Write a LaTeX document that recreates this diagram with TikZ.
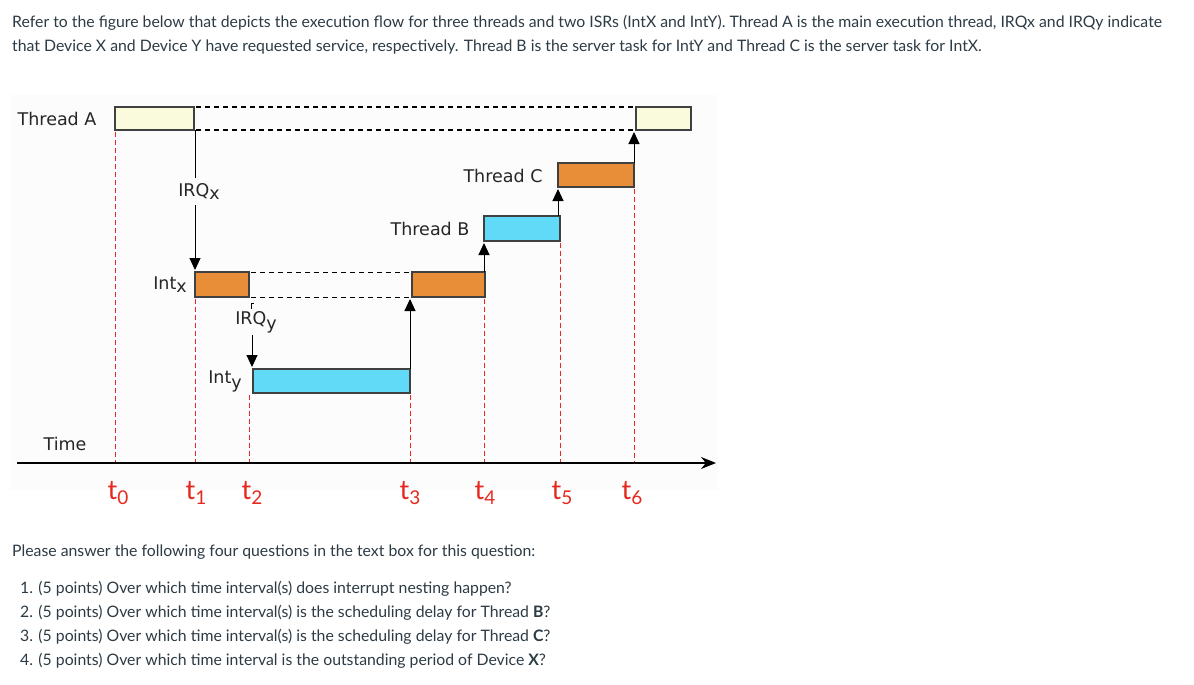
\documentclass[tikz,border=0pt]{standalone}
\usepackage{fontspec}
\setmainfont{Lato}
\newfontfamily\dv{DejaVu Sans}
\usetikzlibrary{arrows.meta}
\definecolor{tred}{RGB}{230,40,30}
\definecolor{orng}{RGB}{232,142,56}
\definecolor{cyn}{RGB}{96,218,246}
\definecolor{pale}{RGB}{250,250,220}
\definecolor{txt}{RGB}{45,59,69}
\begin{document}
\begin{tikzpicture}[x=1pt,y=-1pt,
  bx/.style={draw=black!75,line width=1.2pt},
  dsh/.style={dash pattern=on 5pt off 4pt,line width=1.3pt},
  rdash/.style={tred,dash pattern=on 5pt off 3pt,line width=1pt},
  arr/.style={-{Triangle[length=12pt,width=11pt]},line width=1pt},
  lbl/.style={font=\dv\fontsize{17.5}{20}\selectfont,inner sep=1pt,black!85},
  tl/.style={tred,font=\fontsize{27}{28}\selectfont,inner sep=0pt},
  q/.style={anchor=west,txt,font=\fontsize{15.8}{18}\selectfont,inner sep=0pt}]
\useasboundingbox (0,0) rectangle (1194,685);
\fill[white] (0,0) rectangle (1194,685);
\fill[black!1] (10,95) rectangle (718,490);
% header text
\node[q] (h1) at (12,23) {Refer to the figure below that depicts the execution flow for three threads and two ISRs (IntX and IntY). Thread A is the main execution thread, IRQx and IRQy indicate};
\node[q] (h2) at (12,47) {that Device X and Device Y have requested service, respectively. Thread B is the server task for IntY and Thread C is the server task for IntX.};
% Thread A
\draw[bx,fill=pale] (115,107) rectangle (194,130);
\draw[bx,fill=pale] (636,107) rectangle (691,130);
\draw[dsh] (196,107) -- (634,107);
\draw[dsh] (196,130) -- (634,130);
% Int X
\draw[bx,fill=orng] (195,272) rectangle (249,297);
\draw[bx,fill=orng] (412,272) rectangle (485,297);
\draw[dsh,line width=1pt] (251,272) -- (410,272);
\draw[dsh,line width=1pt] (251,297) -- (410,297);
% Int Y
\draw[bx,fill=cyn] (253,369) rectangle (410,393);
% Thread B, C
\draw[bx,fill=cyn] (484,216) rectangle (560,241);
\draw[bx,fill=orng] (558,163) rectangle (634,187);
% labels
\node[lbl] (la) at (57,119) {Thread A};
\node[lbl] (lirqx) at (199,192) {IRQ\raisebox{-3pt}{x}};
\node[lbl] (lix) at (170,285) {Int\raisebox{-3pt}{x}};
\node[lbl] (lirqy) at (256,322) {IRQ\raisebox{-5pt}{y}};
\node[lbl] (liy) at (225,381) {Int\raisebox{-5pt}{y}};
\node[lbl] (lb) at (430,229) {Thread B};
\node[lbl] (lc) at (503,176) {Thread C};
\node[lbl] (lt) at (65,444) {Time};
% arrows
\draw[line width=1pt] (195,130) -- (195,178);
\draw[arr] (195,205) -- (195,270);
\draw[line width=1pt] (251,309) -- (251,303) -- (254,303);
\draw[arr] (252,335) -- (252,367);
\draw[arr] (410,369) -- (410,299);
\draw[arr] (484,272) -- (484,243);
\draw[arr] (558,216) -- (558,189);
\draw[arr] (634,163) -- (634,132);
% red dashes
\draw[rdash] (115,132) -- (115,462);
\draw[rdash] (195,299) -- (195,462);
\draw[rdash] (249,395) -- (249,462);
\draw[rdash] (410,395) -- (410,462);
\draw[rdash] (484,299) -- (484,462);
\draw[rdash] (560,243) -- (560,462);
\draw[rdash] (634,189) -- (634,462);
% axis
\draw[-{Stealth[length=15pt,width=12pt]},line width=1.4pt] (17,463) -- (716,463);
% t labels
\node[tl] (t0) at (118,493) {t\raisebox{-5pt}{\fontsize{19}{19}\selectfont 0}};
\node[tl] (t1) at (196,493) {t\raisebox{-5pt}{\fontsize{19}{19}\selectfont 1}};
\node[tl] (t2) at (252,493) {t\raisebox{-5pt}{\fontsize{19}{19}\selectfont 2}};
\node[tl] (t3) at (410,493) {t\raisebox{-5pt}{\fontsize{19}{19}\selectfont 3}};
\node[tl] (t4) at (485,493) {t\raisebox{-5pt}{\fontsize{19}{19}\selectfont 4}};
\node[tl] (t5) at (562,493) {t\raisebox{-5pt}{\fontsize{19}{19}\selectfont 5}};
\node[tl] (t6) at (632,493) {t\raisebox{-5pt}{\fontsize{19}{19}\selectfont 6}};
% questions
\node[q] (p) at (12,552) {Please answer the following four questions in the text box for this question:};
\node[q] (q1) at (20,589) {1. (5 points) Over which time interval(s) does interrupt nesting happen?};
\node[q] (q2) at (20,613) {2. (5 points) Over which time interval(s) is the scheduling delay for Thread \textbf{B}?};
\node[q] (q3) at (20,637) {3. (5 points) Over which time interval(s) is the scheduling delay for Thread \textbf{C}?};
\node[q] (q4) at (20,661) {4. (5 points) Over which time interval is the outstanding period of Device \textbf{X}?};
\end{tikzpicture}
\end{document}
